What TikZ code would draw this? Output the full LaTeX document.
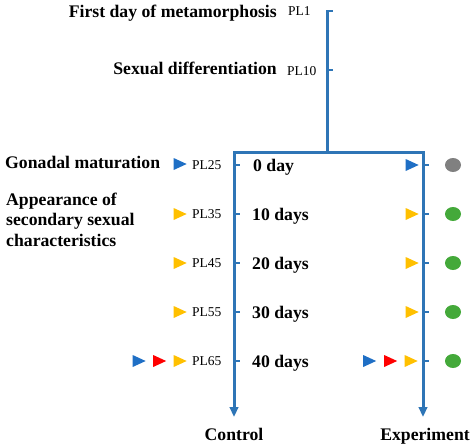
\documentclass[tikz,border=0pt]{standalone}
\usepackage{fontspec}
\setmainfont{Liberation Serif}
\usepackage{tikz}
\usetikzlibrary{shapes.geometric, arrows.meta}
\definecolor{axisblue}{HTML}{2E75B6}
\definecolor{triblue}{HTML}{1F6FC5}
\definecolor{trired}{HTML}{FF0000}
\definecolor{triyellow}{HTML}{FFC000}
\definecolor{dotgrey}{HTML}{808080}
\definecolor{dotgreen}{HTML}{44A93A}
\tikzstyle{axis} = [line width=3pt, draw=axisblue, line join=miter]
\tikzstyle{tick} = [line width=2.4pt, draw=axisblue]
\tikzstyle{stage} = [font=\fontsize{17.7}{20.5}\selectfont\bfseries, inner sep=0pt]
\tikzstyle{pl} = [font=\fontsize{13.5}{15}\selectfont, inner sep=0pt, anchor=base west]
\tikzstyle{marker} = [isosceles triangle, isosceles triangle stretches, minimum width=12pt,
                      minimum height=13pt, inner sep=0pt, outer sep=0pt]
\tikzstyle{dot} = [ellipse, minimum width=16pt, minimum height=14pt, inner sep=0pt]

\begin{document}
\begin{tikzpicture}[x=1pt, y=-1pt]
    \useasboundingbox (0,0) rectangle (474,447);

    % timeline
    \coordinate (top) at (327,10);
    \coordinate (split) at (327,152);
    \coordinate (ctlTop) at (234,152);
    \coordinate (expTop) at (423,152);
    \coordinate (ctlEnd) at (234,417);
    \coordinate (expEnd) at (423,417);

    \draw [axis] (top) -- (split);
    \draw [axis, {Triangle[length=10pt,width=8.5pt]}-{Triangle[length=10pt,width=8.5pt]}]
        (ctlEnd) -- (ctlTop) -- (expTop) -- (expEnd);

    \foreach \y in {11,70} \draw [tick] (327,\y) -- ++(6,0);
    \foreach \y in {165,214,263,312,361} {
        \draw [tick] (234,\y) -- ++(6,0);
        \draw [tick] (423,\y) -- ++(6,0);
    }

    % stages
    \node (first) [stage, anchor=base east] at (277,17) {First day of metamorphosis};
    \node (sexdiff) [stage, anchor=base east] at (277,74) {Sexual differentiation};
    \node (gonad) [stage, anchor=base west] at (5,168) {Gonadal maturation};
    \node (appear) [stage, anchor=base west, align=left] at (6,246) {Appearance of\\secondary sexual\\characteristics};

    \node (pl1) [pl] at (288,16) {PL1};
    \node (pl10) [pl] at (287,75) {PL10};
    \node (pl25) [pl] at (192,169) {PL25};
    \node (pl35) [pl] at (192,218) {PL35};
    \node (pl45) [pl] at (192,267) {PL45};
    \node (pl55) [pl] at (192,316) {PL55};
    \node (pl65) [pl] at (192,365) {PL65};

    % days
    \node (d0) [stage, anchor=base west] at (253,171) {0 day};
    \node (d10) [stage, anchor=base west] at (252,220) {10 days};
    \node (d20) [stage, anchor=base west] at (252,269) {20 days};
    \node (d30) [stage, anchor=base west] at (252,318) {30 days};
    \node (d40) [stage, anchor=base west] at (252,367) {40 days};

    % markers, control
    \node (cb25) [marker, fill=triblue] at (177.5,164) {};
    \node (cy35) [marker, fill=triyellow] at (177.5,214) {};
    \node (cy45) [marker, fill=triyellow] at (177.5,263) {};
    \node (cy55) [marker, fill=triyellow] at (177.5,312) {};
    \node (cb65) [marker, fill=triblue] at (136.5,361) {};
    \node (cr65) [marker, fill=trired] at (157,361) {};
    \node (cy65) [marker, fill=triyellow] at (177.5,361) {};

    % markers, experiment
    \node (eb0) [marker, fill=triblue] at (409.5,165) {};
    \node (ey10) [marker, fill=triyellow] at (409.5,214) {};
    \node (ey20) [marker, fill=triyellow] at (409.5,263) {};
    \node (ey30) [marker, fill=triyellow] at (409.5,312) {};
    \node (eb40) [marker, fill=triblue] at (367,361) {};
    \node (er40) [marker, fill=trired] at (388,361) {};
    \node (ey40) [marker, fill=triyellow] at (408.5,361) {};

    \node (o0) [dot, fill=dotgrey] at (453,165) {};
    \node (o10) [dot, fill=dotgreen] at (453,214) {};
    \node (o20) [dot, fill=dotgreen] at (453,263) {};
    \node (o30) [dot, fill=dotgreen] at (453,312) {};
    \node (o40) [dot, fill=dotgreen] at (453,361) {};

    \node (control) [stage, anchor=base] at (234,440) {Control};
    \node (experiment) [stage, anchor=base] at (425,440) {Experiment};

\end{tikzpicture}
\end{document}
